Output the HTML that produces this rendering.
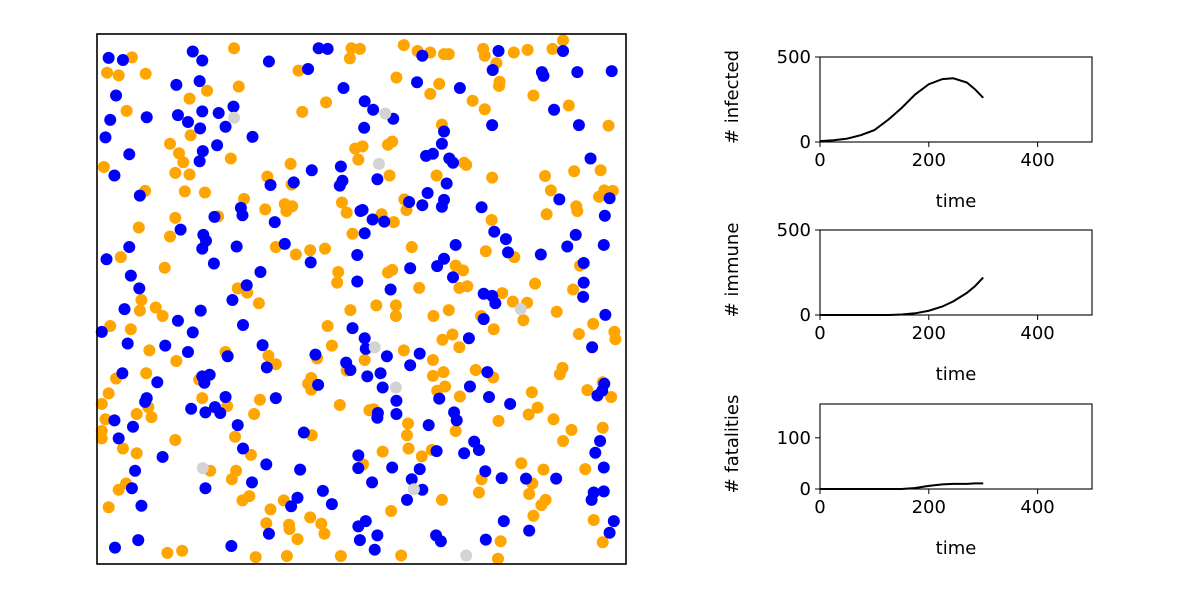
<!DOCTYPE html>
<html><head><meta charset="utf-8"><style>
body{margin:0;background:#fff;}
svg{display:block;font-family:"DejaVu Sans","Liberation Sans",sans-serif;}
</style></head><body>
<svg id="s" width="1200" height="600" viewBox="0 0 1200 600"></svg>
<script>
// scatter data: [x, y] in 0..100 domain
const bluePts=[[2.2,95.5],[4.9,95.1],[18.1,96.7],[19.9,95],[32.5,94.8],[41.9,97.3],[43.6,97.2],[39.9,93.4],[15,90.4],[19.4,91.1],[46.6,89.8],[3.6,88.4],[9.4,84.3],[2.5,83.8],[15.3,84.7],[17.2,83.4],[19.9,85.4],[23,85.1],[25.8,86.3],[24.3,82.5],[19.5,82.2],[29.4,80.6],[1.6,80.5],[20,77.9],[19.4,76],[22.7,79],[6.1,77.3],[3.3,73.3],[40.6,74.3],[46.1,75],[46.4,72.3],[45.9,71.4],[32.8,71.5],[37.2,72],[8.1,69.5],[27.2,67.2],[27.5,65.8],[33.6,64.5],[49.8,66.6],[22.2,65.5],[15.8,63.1],[20.1,62.1],[20.6,61],[19.9,59.5],[6.1,59.8],[26.4,59.9],[35.5,60.4],[40.4,56.9],[1.8,57.5],[22.1,56.7],[30.9,55.1],[49.2,58.3],[49.2,53.3],[6.4,54.4],[8,52],[28.3,52.6],
[61.5,95.9],[75.9,96.8],[74.8,93.2],[88.1,96.8],[60.5,90.9],[68.6,89.8],[84.1,92.8],[84.4,92.1],[90.8,92.8],[97.3,93],[86.4,85.7],[50.6,87.3],[52.2,85.7],[56,84],[50.5,82.3],[65.6,81.6],[65.2,79.3],[74.7,82.8],[91.1,82.8],[53,72.6],[62.2,77],[63.5,77.4],[66.6,76.5],[67.3,75.7],[66.1,71.8],[93.3,76.5],[87.4,68.8],[96.9,69],[96,65.7],[62.5,70],[59,68.3],[61.5,67.7],[65.6,68.7],[65.2,67.4],[72.7,67.3],[50.2,66.8],[52.1,65],[54.3,64.6],[50.6,62.4],[75.1,62.7],[77.3,61.3],[77.7,58.8],[83.9,58.4],[67.8,60.2],[90.5,62.1],[88.9,59.9],[95.8,60.2],[92,56.8],[92,53.1],[91.9,50.4],[65.6,57.6],[64.3,56.2],[67.3,54.1],[59.2,55.8],[55.5,51.8],[73.1,51],[74.7,50.6],
[5.2,48.1],[19.6,47.8],[15.3,45.9],[25.6,49.8],[27.6,45.1],[0.9,43.8],[5.8,41.6],[18.1,43.7],[12.9,41.2],[17.2,40],[24.7,39.2],[31.3,41.3],[32.1,37.1],[48.3,44.5],[41.3,39.5],[47.1,38],[47.9,36.6],[4.8,36],[11.4,34.3],[19.9,35.4],[21.3,35.7],[20.3,34.2],[9.4,31.3],[9.1,30.6],[17.8,29.3],[20.5,28.6],[22.3,29.6],[23.3,28.5],[24.3,31.5],[33.8,31.3],[41.8,33.8],[3.3,27.1],[6.8,25.9],[4.1,23.7],[12.4,20.2],[26.6,26.2],[27.6,21.8],[32,18.8],[39.1,24.8],[38.4,17.8],[49.4,20.5],[49.4,18.1],[29.3,15.4],[20.5,14.3],[7.2,17.6],[6.6,14.3],[8.4,11],[37.9,12.5],[36.7,10.9],[42.7,13.8],[44.4,11.3],[32.5,5.7],[49.4,7.1],[49.7,4.5],[3.4,3.1],[7.8,4.5],[25.4,3.4],
[75.3,49.2],[73.1,46.2],[96.1,47],[93.6,40.9],[50.6,42.6],[50.8,40.6],[54.8,39.2],[61,39.7],[59.2,37.5],[70.3,42.6],[64.7,31.2],[70.5,33.5],[73.8,36.2],[74.1,31.5],[78.1,30.2],[51.1,35.4],[53.6,36],[54,33.3],[56.6,30.8],[56.6,28.3],[53.1,28.5],[53,27.6],[62.7,26.2],[67.5,28.6],[68,27.1],[95.9,34],[95.5,32.7],[94.6,31.8],[95.1,23.2],[94.2,21],[95.8,18.2],[71.3,23.1],[72.2,21.5],[69.4,20.9],[64.2,21.3],[55.8,18.2],[61,17.9],[59.5,16],[61.5,14],[58.6,12.1],[52,15.4],[73.4,17.5],[76.5,16.2],[81.1,16.1],[86.8,16.1],[93.9,13.5],[95.8,13.7],[93.5,12.1],[97.7,8.1],[96.9,5.9],[76.9,8.1],[81.7,6.3],[50.8,8.1],[53,5.4],[52.5,2.7],[64.1,5.4],[65,4.3],[73.5,4.6]];
const orangePts=[[6.6,95.6],[1.9,92.7],[4.1,92.2],[9.2,92.5],[25.9,97.3],[48.1,97.3],[49.7,97.2],[47.8,95.4],[38.1,93.1],[20.8,89.3],[26.8,90.1],[17.5,87.8],[5.6,85.5],[17.7,80.9],[43.3,87.1],[38.8,85.3],[13.8,79.3],[15.5,77.5],[16.3,75.8],[25.3,76.5],[1.3,74.9],[14.8,73.8],[17.5,73.5],[36.6,75.5],[32.2,73.1],[36.8,71.6],[49.4,76.3],[48.8,78.4],[9.1,70.4],[16.6,70.3],[20.4,70.1],[27.8,68.9],[31.8,66.9],[35.5,67.9],[36.9,67.5],[35.8,66.6],[46.3,68.2],[47.2,66.3],[14.8,65.3],[22.9,65.6],[7.9,63.5],[13.8,61.8],[33.8,59.8],[37.6,58.4],[40.3,59.2],[43.1,59.5],[48.3,62.3],[4.5,57.9],[12.8,55.9],[45.6,55.1],[45.4,53.1],[26.6,52],[28.4,51.2],
[58,97.9],[60.6,96.8],[63,96.5],[65.6,96.2],[66.5,96.2],[73,97.2],[73.3,95.9],[78.8,96.5],[81.4,97],[75.5,94.5],[86.1,97.2],[88.1,98.8],[56.6,91.8],[64.7,90.6],[63,88.7],[71,87.4],[73.3,85.8],[76.1,91],[76,90.2],[82.5,88.4],[89.2,86.5],[65.2,82.9],[96.7,82.7],[50.2,78.8],[55,79.1],[55.8,79.7],[55.3,73.3],[69.4,75.7],[69.8,75.3],[64.2,73.3],[74.7,72.9],[90.2,74.1],[95.2,74.3],[84.7,73.2],[85.8,70.5],[95.9,70.5],[97.5,70.4],[94.9,69.3],[90.6,67.5],[90.8,66.6],[85,66],[58.1,68.8],[58.5,66.8],[53.8,66],[56.1,64.5],[74.6,64.9],[78.9,57.9],[73.5,59],[59.5,59.8],[91.3,56.3],[90,51.8],[82.8,52.9],[67.8,56.3],[69.2,55.4],[68.5,52.1],[70,52.4],[55,55],[55.8,55.5],[60.9,52.1],[76.6,51.1],
[8.4,49.8],[8.1,47.8],[11.1,48.4],[12.4,46.8],[30.6,49.2],[47.9,47.9],[2.5,44.9],[6.4,44.3],[9.9,40.3],[15,38.3],[24.3,40],[32.4,39.3],[33.8,37.7],[43.6,44.9],[44.4,41.2],[41.6,38.8],[47.2,36.5],[9.3,36],[3.6,35],[19.3,34.8],[2.2,32.2],[0.9,30.2],[9.7,29.6],[10.3,27.7],[7.5,28.3],[19.9,31.3],[24.6,29.8],[30.8,31],[29.7,28.3],[40.5,35.1],[39.9,34],[40.5,32.9],[45.9,30],[1.6,27.3],[0.9,25.1],[0.9,23.7],[4.9,21.8],[7.5,20.9],[14.8,23.4],[26.1,24],[29.1,20.6],[40.6,24.3],[21.4,17.6],[26.3,17.6],[25.5,16],[5.5,15.2],[4.1,14],[2.2,10.7],[27.5,12],[28.8,12.8],[35.3,12],[32.8,10.3],[40.3,8.8],[42.4,7.6],[43,5.7],[32,7.7],[36.3,7.4],[36.4,6.6],[37.9,4.7],[13.3,2.1],[16.1,2.5],[30,1.3],[35.9,1.5],[46.1,1.5],
[52.8,48.8],[56.5,48.8],[56.5,46.8],[63.6,46.8],[66.5,47.9],[78.6,49.5],[81.3,49.3],[80.6,46],[72.6,46.8],[75,44.3],[86.9,47.6],[93.8,45.3],[91.1,43.4],[97.8,43.8],[98,42.4],[50.6,38.5],[58,40.3],[63.5,38.5],[65.3,42.3],[67.2,43.3],[68.5,40.9],[63.5,35.5],[65.5,36.2],[64.3,32.7],[65.8,33.5],[68.6,31.6],[71.6,36.6],[74.9,35.2],[51.5,29],[52.3,29.2],[58.8,26.5],[58.6,24.3],[67.8,25.1],[75.9,27],[82.2,32.4],[83.3,29.5],[81.6,28.2],[86.3,27.3],[89.7,25.3],[88.1,23.2],[87.5,35.8],[88,37],[92.7,32.8],[95.6,34.3],[97.2,31.5],[95.6,25.7],[92.3,17.9],[58.9,21.8],[63.3,21.5],[61.4,20.3],[54,21.2],[50.3,18.8],[65.2,12.1],[55.6,10],[80.2,19],[84.4,17.8],[72.7,16],[72.2,13.5],[82.3,15.2],[81.7,13.2],[84.8,12.1],[84,11.1],[82.5,9.1],[93.9,8.3],[95.6,4.1],[76.3,4.3],[57.5,1.6],[75.8,1]];
const grayPts=[[25.9,84.2],[54.5,85],[53.3,75.5],[20,18.1],[80.1,48.1],[52.5,40.9],[56.5,33.3],[59.9,14.1],[69.8,1.6]];
// time series
const timeVals=[0,25,50,75,100,125,150,175,200,225,245,270,285,300];
const infectedVals=[5,10,20,40,70,130,200,280,340,370,375,350,310,260];
const immuneVals=[0,0,0,0,0,0,3,10,25,50,80,130,170,220];
const fatalVals=[0,0,0,0,0,0,0,2,6,9,10,10,11,11];
const xTicks=[0,200,400];
const infTicks=[0,500], immTicks=[0,500], fatTicks=[0,100];

const NS='http://www.w3.org/2000/svg', S=document.getElementById('s');
function el(t,a,p){const e=document.createElementNS(NS,t);for(const k in a)e.setAttribute(k,a[k]);(p||S).appendChild(e);return e;}
const sx=v=>97+v/100*529, sy=v=>564-v/100*530;
const sg=el('g',{});


function dots(arr,col,name){arr.forEach(p=>{const c=el('circle',{cx:sx(p[0]),cy:sy(p[1]),r:6,fill:col},sg);

});}
dots(orangePts,'#ffa500','healthy-person');
dots(bluePts,'#0000ff','infected-person');
dots(grayPts,'#d3d3d3','immune-person');
const fr=el('rect',{x:97,y:34,width:529,height:530,fill:'none',stroke:'#000','stroke-width':1.6});


function panel(top,vals,ymax,yt,label,name){
  const L=820,R=1092,B=top+85;
  const px=v=>L+v/500*(R-L), py=v=>B-v/ymax*85;
  const g=el('g',{});
  
  
  el('polyline',{points:timeVals.map((t,i)=>px(t)+','+py(vals[i])).join(' '),fill:'none',stroke:'#000','stroke-width':2},g);
  el('rect',{x:L,y:top,width:R-L,height:85,fill:'none',stroke:'#000','stroke-width':1.1},g);
  xTicks.forEach(t=>{el('line',{x1:px(t),x2:px(t),y1:B,y2:B+5,stroke:'#000'},g);
    const tx=el('text',{x:px(t),y:B+24,'font-size':18,'text-anchor':'middle'},g);tx.textContent=t;});
  yt.forEach(t=>{el('line',{x1:L-5,x2:L,y1:py(t),y2:py(t),stroke:'#000'},g);
    const tx=el('text',{x:L-9,y:py(t)+6,'font-size':18,'text-anchor':'end'},g);tx.textContent=t;});
  const xl=el('text',{x:(L+R)/2,y:B+65,'font-size':18,'text-anchor':'middle'},g);xl.textContent='time';
  
  
  const yl=el('text',{x:0,y:0,'font-size':18,'text-anchor':'middle',transform:'translate(738,'+(top+40)+') rotate(-90)'},g);yl.textContent=label;
  
  
}
panel(57,infectedVals,500,infTicks,'# infected','infected-chart');
panel(230,immuneVals,500,immTicks,'# immune','immune-chart');
panel(404,fatalVals,166,fatTicks,'# fatalities','fatalities-chart');
</script>
</body></html>
